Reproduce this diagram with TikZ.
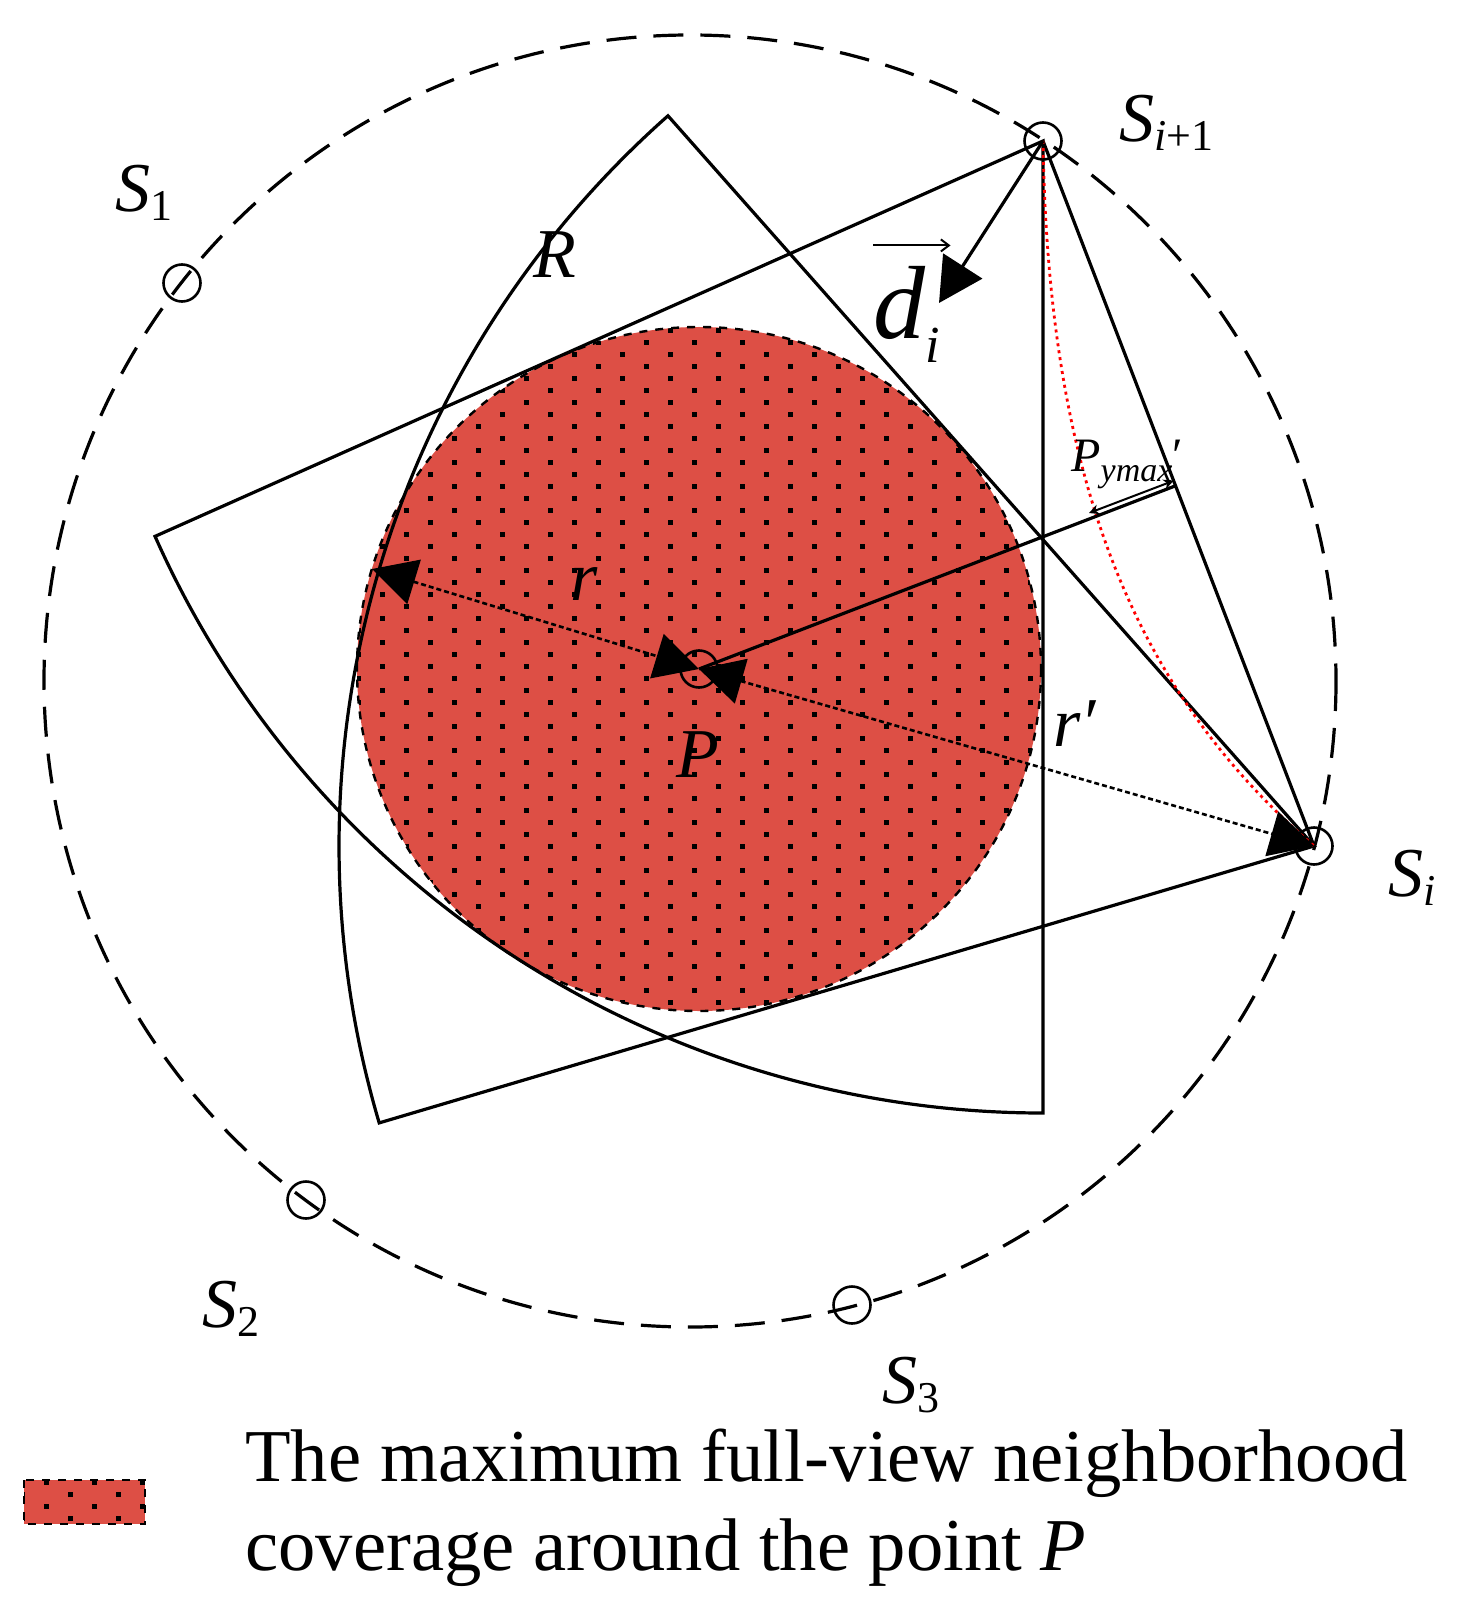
\documentclass[tikz,border=0pt]{standalone}
\usepackage{fontspec}
\setmainfont{Liberation Serif}
\usetikzlibrary{arrows.meta}
\definecolor{covred}{RGB}{221,79,69}
\newcommand\dotfield[4]{%
  \foreach \n in {#1,...,#2}{%
    \foreach \m in {#3,...,#4}{%
      \pgfmathsetmacro\xx{646.7+48*\m-24*mod(abs(\n),2)}%
      \pgfmathsetmacro\yy{606.7+12*\n}%
      \fill (\xx-2.5,\yy-2.5) rectangle +(5,5);
    }%
  }%
}
\newcommand\sub[1]{\raisebox{-4.5pt}{\fontsize{22}{22}\selectfont #1}}
\begin{document}
\begin{tikzpicture}[x=0.5pt,y=-0.5pt,
  edge/.style={line width=1.6pt},
  sensor/.style={circle, draw, line width=1.3pt, minimum size=18.5pt, inner sep=0pt},
  lab/.style={anchor=base west, inner sep=0pt, font=\fontsize{35}{40}\selectfont},
  dotline/.style={line width=1.3pt, dash pattern=on 2.5pt off 1.5pt},
  reddot/.style={red, line width=1.4pt, dash pattern=on 1.5pt off 2pt},
  bigdash/.style={line width=1.6pt, dash pattern=on 15pt off 8.5pt},
  covborder/.style={line width=1.2pt, dash pattern=on 4pt off 4pt},
  bigarrow/.style={-{Triangle[length=22pt,width=23pt]}},
  bigboth/.style={{Triangle[length=22pt,width=23pt]}-{Triangle[length=22pt,width=23pt]}},
  smallboth/.style={line width=1pt, {Stealth[length=5pt,width=5pt]}-{Stealth[length=5pt,width=5pt]}},
  vecarrow/.style={line width=1pt, -{Straight Barb[length=4pt,width=6pt]}}]
\useasboundingbox (0,0) rectangle (1464,1620);
% key points
\coordinate (cP) at (699,669);
\coordinate (cO) at (690,681);
% coverage disc
\fill[covred] (cP) circle[radius=342];
\begin{scope}
  \clip (cP) circle[radius=342];
  \dotfield{-24}{34}{-7}{9}
\end{scope}
\draw[covborder] (cP) circle[radius=342];
% big dashed circle
\draw[bigdash] (cO) circle[radius=646];
% sensors and P
\node[sensor] (P) at (cP) {};
\node[sensor] (Sip) at (1043,141) {};
\node[sensor] (Si) at (1314,846) {};
\node[sensor] (S1) at (182,283) {};
\node[sensor] (S2) at (306,1200) {};
\node[sensor] (S3) at (852,1305) {};
% sectors
\draw[edge] (Sip.center) -- ++(90:972) arc[start angle=90,end angle=156,radius=972] -- cycle;
\draw[edge] (Si.center) -- ++(163.5:975) arc[start angle=163.5,end angle=228.5,radius=975] -- cycle;
\draw[edge] (Sip.center) -- (Si.center);
% red dotted curve
\draw[reddot] (Sip.center) .. controls (1048,475) and (1132,690) .. (Si.center);
% perpendicular from P to chord
\coordinate (F) at (1175.5,485.8);
\coordinate (Q) at (1091,518);
\draw[edge] (F) -- (P.center);
\draw[smallboth] ([shift={(-2,-5)}]Q) -- ([shift={(-2,-5)}]F);
% r and r'
\coordinate (E) at (372,569);
\draw[dotline, bigboth] (E) -- (P.center);
\draw[dotline, bigboth] (P.center) -- (Si.center);
% direction d_i
\coordinate (D) at (939,303);
\draw[edge, bigarrow] (Sip.center) -- (D);
% labels
\node[lab] (lS1) at (115,212) {\textit{S}\sub{1}};
\node[lab] (lS2) at (202,1327) {\textit{S}\sub{2}};
\node[lab] (lS3) at (882,1403) {\textit{S}\sub{3}};
\node[lab] (lSi) at (1388,896) {\textit{S}\sub{\textit{i}}};
\node[lab] (lSip) at (1119,142) {\textit{S}\sub{\textit{i}+1}};
\node[lab] (lR) at (533,278) {\textit{R}};
\node[lab] (lr) at (570,600) {\textit{r}};
\node[lab] (lP) at (676,777) {\textit{P}};
\node[lab] (lrp) at (1053,746) {\textit{r′}};
\node[anchor=base west, inner sep=0pt, font=\fontsize{24}{28}\selectfont] (lPy) at (1071,472)
  {\textit{P}\raisebox{-5pt}{\fontsize{17}{17}\selectfont\textit{ymax}}′};
\node[anchor=base west, inner sep=0pt, font=\fontsize{52}{60}\selectfont] (ld) at (873,339)
  {\textit{d}\raisebox{-12pt}{\fontsize{26}{26}\selectfont\textit{i}}};
\draw[vecarrow] ([yshift=10.5pt]ld.north west) -- ([yshift=10.5pt,xshift=5pt]ld.north east);
% legend
\fill[covred] (24,1480) rectangle (145,1524);
\begin{scope}
  \clip (24,1480) rectangle (145,1524);
  \dotfield{73}{76}{-13}{-10}
\end{scope}
\draw[covborder] (24,1480) rectangle (145,1524);
\node[anchor=base west, inner sep=0pt, font=\fontsize{37.3}{44}\selectfont] (leg1) at (245,1481)
  {The maximum full-view neighborhood};
\node[anchor=base west, inner sep=0pt, font=\fontsize{37.3}{44}\selectfont] (leg2) at (245,1570)
  {coverage around the point \textit{P}};
\end{tikzpicture}
\end{document}
